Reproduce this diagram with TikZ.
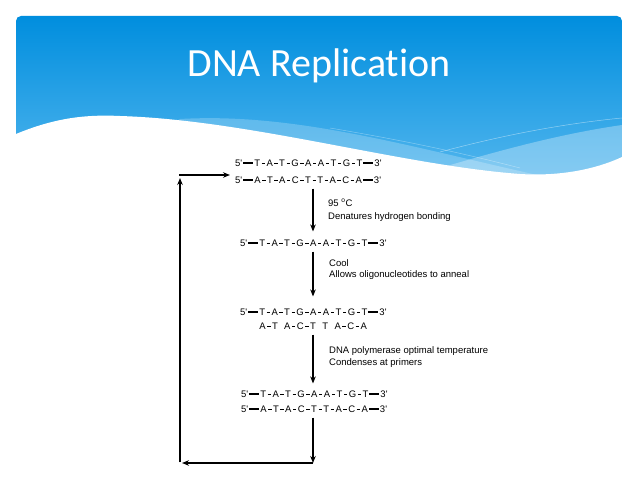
\documentclass[tikz,border=0pt]{standalone}
\usepackage{fontspec}
\setmainfont{Liberation Sans}
\newfontfamily\titlefont[Ligatures=NoCommon]{Carlito}
\usetikzlibrary{arrows.meta, positioning}

\definecolor{hdtop}{RGB}{0,142,222}
\definecolor{hdbot}{RGB}{95,188,240}

\newcommand{\dnalink}{\kern1.5pt\rule[2.7pt]{3.4pt}{1pt}\kern1.5pt}
\newcommand{\dnagap}{\kern1.5pt\hspace{3.4pt}\kern1.5pt}
\newcommand{\dnaend}{\kern1pt\rule[2.7pt]{10pt}{1.1pt}\kern1pt}
\newcommand{\pfive}{5\textquotesingle}
\newcommand{\pthree}{3\textquotesingle}

\begin{document}
\begin{tikzpicture}[x=1pt,y=-1pt,>={Stealth[length=7pt,width=5.5pt]},
    seq/.style={font=\fontsize{9.5}{11}\selectfont, inner sep=0pt, anchor=west},
    note/.style={font=\fontsize{9.5}{11}\selectfont, inner sep=0pt, anchor=west},
    flow/.style={->, line width=1.2pt, shorten <=5pt, shorten >=8pt}]
    \useasboundingbox (0,0) rectangle (638,478);
    \fill[white] (0,0) rectangle (638,478);

    % header
    \shade[top color=hdtop, bottom color=hdbot, rounded corners=5pt] (16,16) rectangle (622,205);
    \fill[white, opacity=.22] (180,119) .. controls (300,112) and (420,150) .. (560,180) -- (16,210) -- cycle;
    \fill[white, opacity=.3] (420,174) .. controls (500,150) and (560,134) .. (622,125) -- (622,210) -- (420,210) -- cycle;
    \draw[white, opacity=.45, line width=.5pt] (440,152) .. controls (500,136) and (560,124) .. (622,118);
    \draw[white, opacity=.35, line width=.5pt] (330,128) .. controls (400,140) and (450,150) .. (520,168);
    \fill[white] (16,134) .. controls (50,120) and (80,114) .. (120,116)
        .. controls (250,120) and (400,165) .. (520,174)
        .. controls (570,177) and (605,165) .. (622,157) -- (622,210) -- (16,210) -- cycle;
    \node[text=white, font=\titlefont\fontsize{40}{44}\selectfont] (title) at (319,66) {DNA Replication};

    % strands
    \node[seq] (s1a) at (235,163) {\pfive\dnaend T\dnalink A\dnalink T\dnalink G\dnalink A\dnalink A\dnalink T\dnalink G\dnalink T\dnaend\pthree};
    \node[seq] (s1b) at (235,180) {\pfive\dnaend A\dnalink T\dnalink A\dnalink C\dnalink T\dnalink T\dnalink A\dnalink C\dnalink A\dnaend\pthree};
    \node[seq] (s2) at (240,243) {\pfive\dnaend T\dnalink A\dnalink T\dnalink G\dnalink A\dnalink A\dnalink T\dnalink G\dnalink T\dnaend\pthree};
    \node[seq] (s3a) at (240,312) {\pfive\dnaend T\dnalink A\dnalink T\dnalink G\dnalink A\dnalink A\dnalink T\dnalink G\dnalink T\dnaend\pthree};
    \node[seq] (s3b) at (240,326) {\phantom{\pfive\dnaend}A\dnalink T\dnagap A\dnalink C\dnalink T\dnagap T\dnagap A\dnalink C\dnalink A};
    \node[seq] (s4a) at (241,394) {\pfive\dnaend T\dnalink A\dnalink T\dnalink G\dnalink A\dnalink A\dnalink T\dnalink G\dnalink T\dnaend\pthree};
    \node[seq] (s4b) at (241,409) {\pfive\dnaend A\dnalink T\dnalink A\dnalink C\dnalink T\dnalink T\dnalink A\dnalink C\dnalink A\dnaend\pthree};

    % steps
    \node[note] (n1a) at (328,203) {95 \textsuperscript{o}C};
    \node[note] (n1b) at (328,217) {Denatures hydrogen bonding};
    \node[note] (n2a) at (329,263) {Cool};
    \node[note] (n2b) at (329,275) {Allows oligonucleotides to anneal};
    \node[note] (n3a) at (329,351) {DNA polymerase optimal temperature};
    \node[note] (n3b) at (329,363) {Condenses at primers};

    \coordinate (axis) at (313,0);
    \coordinate (turn) at (313,463);
    \coordinate (bl) at (180,463);
    \coordinate (tl) at (180,175);

    \draw[flow] (s1b.south -| axis) -- (s2.north -| axis);
    \draw[flow, shorten >=12pt] (s2.south -| axis) -- (s3a.north -| axis);
    \draw[flow, shorten >=7pt] (s3b.south -| axis) -- (s4a.north -| axis);
    \draw[flow, shorten >=0pt] (s4b.south -| axis) -- (turn);
    \draw[->, line width=1.2pt] (turn) -- ([xshift=2pt]bl);
    \draw[->, line width=1.2pt] ([yshift=.6pt]bl) -- ([yshift=-3pt]tl);
    \draw[->, line width=1.2pt] ([xshift=-.6pt]tl) -- ([xshift=-5pt]s1b.west |- tl);
\end{tikzpicture}
\end{document}
